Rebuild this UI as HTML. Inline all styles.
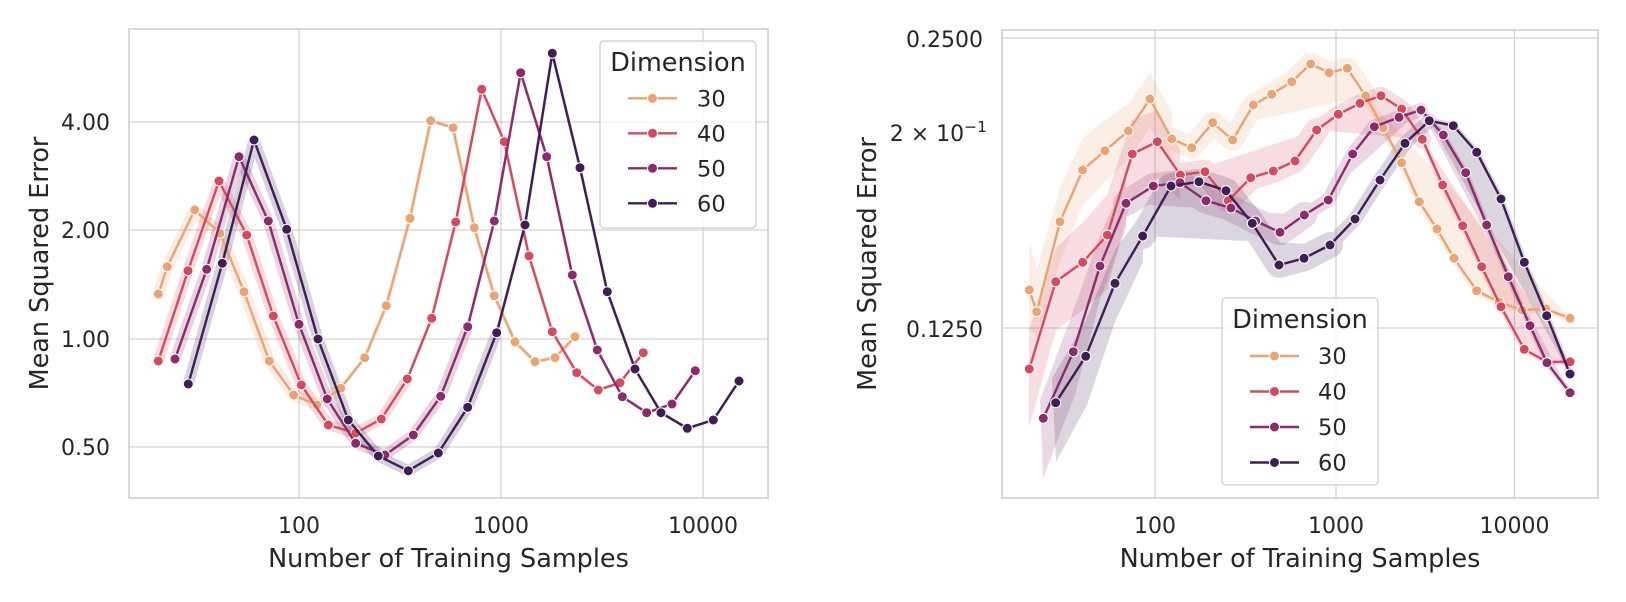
<!DOCTYPE html>
<html><head><meta charset="utf-8"><style>body{margin:0;background:#fff}svg{display:block}</style></head>
<body>
<svg width="1626" height="602" viewBox="0 0 1626 602" xmlns="http://www.w3.org/2000/svg" font-family="'DejaVu Sans','Liberation Sans',sans-serif" fill="#262626">
<defs>
<marker id="m30" markerUnits="userSpaceOnUse" markerWidth="12" markerHeight="12" refX="6" refY="6" viewBox="0 0 12 12"><circle cx="6" cy="6" r="5" fill="#eba372" stroke="#fff" stroke-width="1"/></marker>
<marker id="m40" markerUnits="userSpaceOnUse" markerWidth="12" markerHeight="12" refX="6" refY="6" viewBox="0 0 12 12"><circle cx="6" cy="6" r="5" fill="#d64a5d" stroke="#fff" stroke-width="1"/></marker>
<marker id="m50" markerUnits="userSpaceOnUse" markerWidth="12" markerHeight="12" refX="6" refY="6" viewBox="0 0 12 12"><circle cx="6" cy="6" r="5" fill="#8c2b6b" stroke="#fff" stroke-width="1"/></marker>
<marker id="m60" markerUnits="userSpaceOnUse" markerWidth="12" markerHeight="12" refX="6" refY="6" viewBox="0 0 12 12"><circle cx="6" cy="6" r="5" fill="#3f1d55" stroke="#fff" stroke-width="1"/></marker>
</defs>
<rect width="1626" height="602" fill="#fff"/>

<!-- ===== LEFT CHART ===== -->
<g stroke="#d2d2d2" stroke-width="1.25">
<line x1="299" y1="29" x2="299" y2="498"/><line x1="501" y1="29" x2="501" y2="498"/><line x1="703" y1="29" x2="703" y2="498"/>
<line x1="129" y1="122" x2="768" y2="122"/><line x1="129" y1="230" x2="768" y2="230"/><line x1="129" y1="339" x2="768" y2="339"/><line x1="129" y1="447" x2="768" y2="447"/>
</g>
<rect x="129" y="29" width="639" height="469" fill="none" stroke="#cccccc" stroke-width="1.5"/>

<!-- bands left -->
<g fill="none" stroke-linejoin="round" stroke-linecap="round">
<g opacity="0.2" stroke="#eba372">
<polyline stroke-width="12" points="158.3,294 167.3,266.7 194.7,210 220,233.3 244,291.7 269.3,361 293.7,395 317,405 340.7,388.3"/>
<polyline stroke-width="4" points="340.7,388.3 364.7,357.7 386.3,305.7 410,218.3 430.7,120.7 453,127.7 474.3,227.7 494.3,295.7 515,341.7 535,361.7 555,357.7 575,336.7"/>
</g>
<g opacity="0.2" stroke="#d64a5d">
<polyline stroke-width="11" points="158.3,361 188,270.7 219,181 246.7,235 273.3,316 301.3,385 328.3,425 355.7,433 381.3,419 407.3,379"/>
<polyline stroke-width="3" points="407.3,379 431.7,318.3 455.7,222 481.7,89.3 504.3,141.7 529,256 552.3,331.7 576.7,372.7 598.3,390 620,382.7 643.3,352.7"/>
</g>
<g opacity="0.2" stroke="#8c2b6b">
<polyline stroke-width="11" points="175,359 206.7,269.3 239,156.7 268.3,221 299,324.3 327.3,399 355.7,443.3 385,455 413.3,435 440.7,396.3 467.7,326.7"/>
<polyline stroke-width="3" points="467.7,326.7 494.3,221 520.7,72.7 546.7,156.7 572.3,275 597.3,350 622.3,396.7 646.7,412.7 672,404 695.3,370.7"/>
</g>
<g opacity="0.2" stroke="#3f1d55">
<polyline stroke-width="11" points="188.3,384 222.3,263.3 254,140 286.7,229.3 318,339 348.3,420 378.3,456 408.3,470.7 438.3,453 467.7,407.3 496.7,332.7"/>
<polyline stroke-width="3" points="496.7,332.7 525,225 552.3,53.3 580,167.7 607.3,291.7 635,369 661,412.7 687.3,428.3 713.3,420 739,381"/>
</g>
</g>

<!-- lines left -->
<g fill="none" stroke-width="2.4" stroke-linejoin="round">
<polyline stroke="#eba372" marker-start="url(#m30)" marker-mid="url(#m30)" marker-end="url(#m30)" points="158.3,294 167.3,266.7 194.7,210 220,233.3 244,291.7 269.3,361 293.7,395 317,405 340.7,388.3 364.7,357.7 386.3,305.7 410,218.3 430.7,120.7 453,127.7 474.3,227.7 494.3,295.7 515,341.7 535,361.7 555,357.7 575,336.7"/>
<polyline stroke="#d64a5d" marker-start="url(#m40)" marker-mid="url(#m40)" marker-end="url(#m40)" points="158.3,361 188,270.7 219,181 246.7,235 273.3,316 301.3,385 328.3,425 355.7,433 381.3,419 407.3,379 431.7,318.3 455.7,222 481.7,89.3 504.3,141.7 529,256 552.3,331.7 576.7,372.7 598.3,390 620,382.7 643.3,352.7"/>
<polyline stroke="#8c2b6b" marker-start="url(#m50)" marker-mid="url(#m50)" marker-end="url(#m50)" points="175,359 206.7,269.3 239,156.7 268.3,221 299,324.3 327.3,399 355.7,443.3 385,455 413.3,435 440.7,396.3 467.7,326.7 494.3,221 520.7,72.7 546.7,156.7 572.3,275 597.3,350 622.3,396.7 646.7,412.7 672,404 695.3,370.7"/>
<polyline stroke="#3f1d55" marker-start="url(#m60)" marker-mid="url(#m60)" marker-end="url(#m60)" points="188.3,384 222.3,263.3 254,140 286.7,229.3 318,339 348.3,420 378.3,456 408.3,470.7 438.3,453 467.7,407.3 496.7,332.7 525,225 552.3,53.3 580,167.7 607.3,291.7 635,369 661,412.7 687.3,428.3 713.3,420 739,381"/>
</g>

<!-- left ticks -->
<g font-size="22" text-anchor="end">
<text x="110" y="130">4.00</text><text x="110" y="238">2.00</text><text x="110" y="347">1.00</text><text x="110" y="455">0.50</text>
</g>
<g font-size="22" text-anchor="middle">
<text x="299" y="533">100</text><text x="501" y="533">1000</text><text x="703" y="533">10000</text>
</g>
<text x="448.5" y="567" font-size="25.5" text-anchor="middle">Number of Training Samples</text>
<text transform="translate(48,263.5) rotate(-90)" font-size="25.5" text-anchor="middle">Mean Squared Error</text>

<!-- left legend -->
<rect x="600" y="41" width="156" height="187" rx="4" ry="4" fill="#fff" fill-opacity="0.8" stroke="#cccccc" stroke-width="1.2"/>
<text x="678" y="71" font-size="25.5" text-anchor="middle">Dimension</text>
<g stroke-width="2.4">
<line x1="628" y1="98.3" x2="677" y2="98.3" stroke="#eba372"/>
<line x1="628" y1="133.3" x2="677" y2="133.3" stroke="#d64a5d"/>
<line x1="628" y1="168.3" x2="677" y2="168.3" stroke="#8c2b6b"/>
<line x1="628" y1="203.3" x2="677" y2="203.3" stroke="#3f1d55"/>
</g>
<circle cx="652.5" cy="98.3" r="5" fill="#eba372" stroke="#fff"/>
<circle cx="652.5" cy="133.3" r="5" fill="#d64a5d" stroke="#fff"/>
<circle cx="652.5" cy="168.3" r="5" fill="#8c2b6b" stroke="#fff"/>
<circle cx="652.5" cy="203.3" r="5" fill="#3f1d55" stroke="#fff"/>
<g font-size="22.5">
<text x="697" y="106.3">30</text><text x="697" y="141.3">40</text><text x="697" y="176.3">50</text><text x="697" y="211.3">60</text>
</g>

<!-- ===== RIGHT CHART ===== -->
<g stroke="#d2d2d2" stroke-width="1.25">
<line x1="1155" y1="30" x2="1155" y2="498"/><line x1="1336" y1="30" x2="1336" y2="498"/><line x1="1514.5" y1="30" x2="1514.5" y2="498"/>
<line x1="1002" y1="38" x2="1598" y2="38"/><line x1="1002" y1="328" x2="1598" y2="328"/>
</g>
<rect x="1002" y="30" width="596" height="468" fill="none" stroke="#cccccc" stroke-width="1.5"/>

<!-- bands right -->
<g fill="none" stroke-linejoin="round" stroke-linecap="round">
<g opacity="0.18" stroke="#eba372" fill="#eba372">
<polygon stroke="none" points="1029,243 1037,268 1060,188 1083,138 1105,120 1128,104 1150,73 1172,112 1172,165 1150,128 1128,160 1105,182 1083,205 1060,262 1037,335 1029,330"/>
<polyline stroke-width="22" points="1171.7,139 1191.7,147.7 1212.7,122.7 1232.7,140 1253.3,105 1271.7,94.3 1291.7,81.7 1310.7,64 1329,72.7 1347.3,68.3 1365.7,96"/>
<polyline stroke-width="8" points="1365.7,96 1383.3,128 1401.7,162.7 1419.3,201.7 1437,229 1454,258.3 1476.7,290.7 1499,302 1522,310 1546,309 1570,318.3"/>
</g>
<g opacity="0.18" stroke="#d64a5d" fill="#d64a5d">
<polygon stroke="none" points="1029,330 1056,248 1083,222 1107,195 1132,120 1157,110 1180,150 1180,200 1157,178 1132,198 1107,290 1083,310 1056,330 1029,428"/>
<polyline stroke-width="24" points="1180.4,175 1205,171.7 1228.3,200.7 1250.7,177.7 1273.3,171 1295,161 1316.7,130"/>
<polyline stroke-width="18" points="1316.7,130 1338.3,114.3 1360,103.3 1381,95.7 1401.7,109 1422.3,139.3"/>
<polyline stroke-width="6" points="1422.3,139.3 1442.7,185 1462.7,225.7 1481.7,266.7 1501,306.7 1524.3,349.3 1547,362 1570,361.7"/>
</g>
<g opacity="0.18" stroke="#8c2b6b" fill="#8c2b6b">
<polygon stroke="none" points="1040,400 1070,320 1100,235 1126,180 1126,228 1100,300 1075,395 1043,478"/>
<polyline stroke-width="26" points="1126,203.3 1153.3,186 1180,182.7 1206,200.7 1231,208 1255.7,221 1280,232.3 1304.3,215"/>
<polyline stroke-width="14" points="1304.3,215 1328.3,200 1352.7,154 1374.3,126.7 1399,117.3 1421,110"/>
<polyline stroke-width="6" points="1421,110 1443.3,135 1465.7,172.7 1486.7,225 1508.3,276.7 1530,325.7 1547,362.7 1570,392.7"/>
</g>
<g opacity="0.18" stroke="#3f1d55" fill="#3f1d55">
<polygon stroke="none" points="1052,378 1085,322 1115,250 1143,212 1143,262 1115,322 1087,405 1056,462"/>
<polyline stroke-width="26" points="1142.7,236 1171,186 1199,181.7 1226,190.7 1252.3,223.3 1279,265 1304,258.3 1330,245"/>
<polyline stroke-width="14" points="1330,245 1355,219 1380,180 1405,143.3 1429.3,120.7"/>
<polyline stroke-width="6" points="1429.3,120.7 1453.3,125.7 1476.7,152.3 1501,199 1524.3,262.3 1546.7,315.7 1570,374"/>
</g>
</g>

<!-- lines right -->
<g fill="none" stroke-width="2.4" stroke-linejoin="round">
<polyline stroke="#eba372" marker-start="url(#m30)" marker-mid="url(#m30)" marker-end="url(#m30)" points="1029.3,290 1036.7,311.7 1060,221.7 1082.7,170 1105,150.7 1128.3,131 1150,99 1171.7,139 1191.7,147.7 1212.7,122.7 1232.7,140 1253.3,105 1271.7,94.3 1291.7,81.7 1310.7,64 1329,72.7 1347.3,68.3 1365.7,96 1383.3,128 1401.7,162.7 1419.3,201.7 1437,229 1454,258.3 1476.7,290.7 1499,302 1522,310 1546,309 1570,318.3"/>
<polyline stroke="#d64a5d" marker-start="url(#m40)" marker-mid="url(#m40)" marker-end="url(#m40)" points="1029.3,369 1055.7,281.7 1082.7,262.3 1107.3,235 1132.3,154 1157.3,141.7 1180.4,175 1205,171.7 1228.3,200.7 1250.7,177.7 1273.3,171 1295,161 1316.7,130 1338.3,114.3 1360,103.3 1381,95.7 1401.7,109 1422.3,139.3 1442.7,185 1462.7,225.7 1481.7,266.7 1501,306.7 1524.3,349.3 1547,362 1570,361.7"/>
<polyline stroke="#8c2b6b" marker-start="url(#m50)" marker-mid="url(#m50)" marker-end="url(#m50)" points="1043.3,418.3 1073.3,351.7 1100,266 1126,203.3 1153.3,186 1180,182.7 1206,200.7 1231,208 1255.7,221 1280,232.3 1304.3,215 1328.3,200 1352.7,154 1374.3,126.7 1399,117.3 1421,110 1443.3,135 1465.7,172.7 1486.7,225 1508.3,276.7 1530,325.7 1547,362.7 1570,392.7"/>
<polyline stroke="#3f1d55" marker-start="url(#m60)" marker-mid="url(#m60)" marker-end="url(#m60)" points="1055.7,402.7 1085.7,356.3 1115,283.3 1142.7,236 1171,186 1199,181.7 1226,190.7 1252.3,223.3 1279,265 1304,258.3 1330,245 1355,219 1380,180 1405,143.3 1429.3,120.7 1453.3,125.7 1476.7,152.3 1501,199 1524.3,262.3 1546.7,315.7 1570,374"/>
</g>

<!-- right ticks -->
<g font-size="22" text-anchor="end">
<text x="983" y="47">0.2500</text>
<text x="987" y="141">2 × 10<tspan dy="-9" font-size="15.5">−1</tspan></text>
<text x="983" y="337">0.1250</text>
</g>
<g font-size="22" text-anchor="middle">
<text x="1155" y="533">100</text><text x="1336" y="533">1000</text><text x="1514.5" y="533">10000</text>
</g>
<text x="1300" y="567" font-size="25.5" text-anchor="middle">Number of Training Samples</text>
<text transform="translate(876,264) rotate(-90)" font-size="25.5" text-anchor="middle">Mean Squared Error</text>

<!-- right legend -->
<rect x="1222" y="298" width="156" height="187" rx="4" ry="4" fill="#fff" fill-opacity="0.8" stroke="#cccccc" stroke-width="1.2"/>
<text x="1300" y="328" font-size="25.5" text-anchor="middle">Dimension</text>
<g stroke-width="2.4">
<line x1="1250" y1="356" x2="1299" y2="356" stroke="#eba372"/>
<line x1="1250" y1="391.5" x2="1299" y2="391.5" stroke="#d64a5d"/>
<line x1="1250" y1="427" x2="1299" y2="427" stroke="#8c2b6b"/>
<line x1="1250" y1="462.5" x2="1299" y2="462.5" stroke="#3f1d55"/>
</g>
<circle cx="1274.5" cy="356" r="5" fill="#eba372" stroke="#fff"/>
<circle cx="1274.5" cy="391.5" r="5" fill="#d64a5d" stroke="#fff"/>
<circle cx="1274.5" cy="427" r="5" fill="#8c2b6b" stroke="#fff"/>
<circle cx="1274.5" cy="462.5" r="5" fill="#3f1d55" stroke="#fff"/>
<g font-size="22.5">
<text x="1318" y="364">30</text><text x="1318" y="399.5">40</text><text x="1318" y="435">50</text><text x="1318" y="470.5">60</text>
</g>
</svg>
</body></html>
